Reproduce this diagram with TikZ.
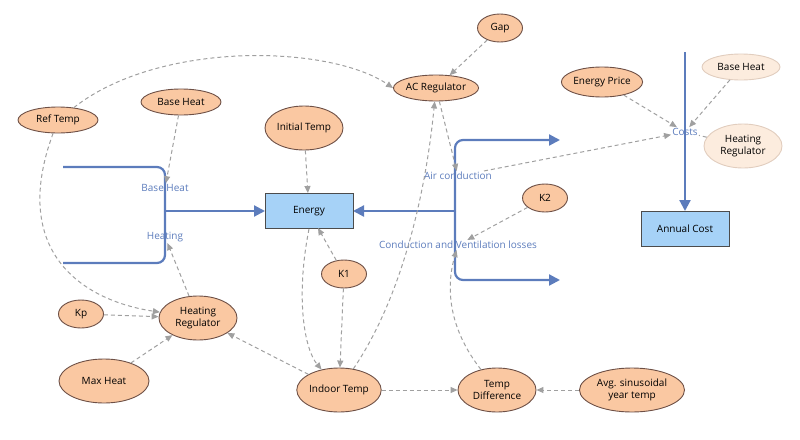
\documentclass[tikz,border=0pt]{standalone}
\usepackage{fontspec}
\setmainfont{Open Sans}
\usetikzlibrary{shapes.geometric,arrows.meta}
\definecolor{aux}{RGB}{250,200,162}
\definecolor{auxd}{RGB}{110,80,70}
\definecolor{faded}{RGB}{252,236,222}
\definecolor{fadedd}{RGB}{225,205,190}
\definecolor{stock}{RGB}{166,210,247}
\definecolor{flow}{RGB}{92,124,188}
\definecolor{link}{RGB}{160,160,160}
\begin{document}
\begin{tikzpicture}[x=1pt,y=-1pt,font=\fontsize{10}{11.5}\selectfont,
 aux/.style={ellipse,draw=auxd,fill=aux,line width=0.9pt,inner sep=0pt,minimum width=#1,minimum height=26pt,align=center},
 aux2/.style={aux=#1,minimum height=44pt},
 fad/.style={aux=#1,draw=fadedd,fill=faded},
 stk/.style={rectangle,draw=black!70,fill=stock,line width=0.9pt,minimum width=88pt,minimum height=35pt},
 lnk/.style={draw=link,dashed,dash pattern=on 4pt off 3pt,line width=1pt,-{Triangle[length=7pt,width=6pt]}},
 flw/.style={draw=flow,line width=2.2pt,rounded corners=8pt},
 flwa/.style={flw,-{Triangle[length=11pt,width=11pt]}},
 lab/.style={text=flow,inner sep=1pt}]
\useasboundingbox (0,0) rectangle (800,439);
% flows
\draw[flw] (63,167) -- (165,167) -- (165,211);
\draw[flw] (63,263) -- (165,263) -- (165,211);
\draw[flwa] (165,211) -- (265,211);
\draw[flwa] (455,211) -- (353,211);
\draw[flwa] (455,211) -- (455,140) -- (560,140);
\draw[flwa] (455,211) -- (455,280) -- (560,280);
\draw[flwa] (685,52) -- (685,211);
% nodes
\node[stk] (E) at (309,211) {Energy};
\node[stk] (AC) at (685,229) {Annual Cost};
\node[aux=45pt,minimum height=28pt] (gap) at (500,28) {Gap};
\node[aux=80pt] (acr) at (436,88) {AC Regulator};
\node[aux=80pt,minimum height=30pt] (ep) at (602,82) {Energy Price};
\node[fad=78pt] (bh2) at (741,67) {Base Heat};
\node[fad=78pt,minimum height=44pt] (hr2) at (743,146) {Heating\\Regulator};
\node[aux=80pt] (rt) at (58,120) {Ref Temp};
\node[aux=80pt] (bh) at (181,102) {Base Heat};
\node[aux2=78pt] (it) at (304,128) {Initial Temp};
\node[aux=45pt,minimum height=28pt] (k2) at (545,198) {K2};
\node[aux=45pt,minimum height=28pt] (k1) at (344,274) {K1};
\node[aux=45pt,minimum height=28pt] (kp) at (81,314) {Kp};
\node[aux2=78pt] (hr) at (198,318) {Heating\\Regulator};
\node[aux2=90pt] (mh) at (104,381) {Max Heat};
\node[aux2=80pt] (in) at (339,390) {Indoor Temp};
\node[aux2=78pt] (td) at (497,390) {Temp\\Difference};
\node[aux2=105pt] (avg) at (632,390) {Avg. sinusoidal\\year temp};
\coordinate (Ek) at (318,228);
% flow labels
\node[lab] (lbh) at (165,188) {Base Heat};
\node[lab] (lhe) at (165,237) {Heating};
\node[lab] (lac) at (458,176) {Air conduction};
\node[lab] (lcv) at (458,245) {Conduction and Ventilation losses};
\node[lab] (lco) at (685,132) {Costs};
% links
\draw[lnk] (rt) .. controls (160,40) and (330,45) .. (acr.west);
\draw[lnk] (gap) -- (acr);
\draw[lnk] (bh) -- (lbh);
\draw[lnk] (it) -- (E);
\draw[lnk] (rt) .. controls (10,250) and (80,300) .. (hr);
\draw[lnk] (hr) -- (lhe);
\draw[lnk] (kp) -- (hr);
\draw[lnk] (mh) -- (hr);
\draw[lnk] (in) -- (hr);
\draw[lnk] (k1) -- (Ek);
\draw[lnk] (k1) -- (in);
\draw[lnk] (E.south) .. controls (295,300) and (305,350) .. (in);
\draw[lnk] (in) .. controls (400,300) and (425,200) .. (acr);
\draw[lnk] (acr) -- (lac);
\draw[lnk] (lac) -- (lco);
\draw[lnk] (ep) -- (lco);
\draw[lnk] (bh2) -- (lco);
\draw[lnk,-] (hr2) -- (lco);
\draw[lnk] (k2) -- (lcv);
\draw[lnk] (td) .. controls (450,330) and (445,290) .. (lcv);
\draw[lnk] (in) -- (td);
\draw[lnk] (avg) -- (td);
\end{tikzpicture}
\end{document}
